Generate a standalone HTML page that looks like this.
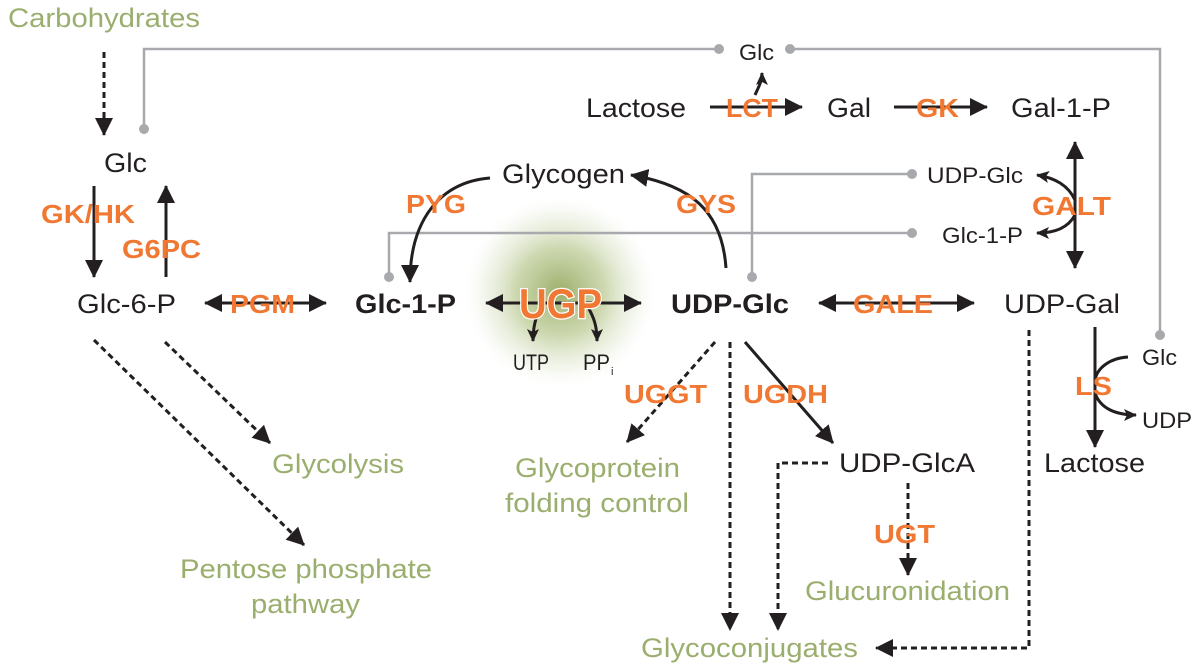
<!DOCTYPE html>
<html><head><meta charset="utf-8"><style>html,body{margin:0;padding:0;background:#fff}svg{display:block}</style></head>
<body>
<svg width="1200" height="672" viewBox="0 0 1200 672" xmlns="http://www.w3.org/2000/svg" font-family="Liberation Sans, Arial, sans-serif">
<defs>
<radialGradient id="glow" cx="0.5" cy="0.5" r="0.5">
<stop offset="0" stop-color="#8aa050" stop-opacity="0.85"/>
<stop offset="0.45" stop-color="#a3b76e" stop-opacity="0.55"/>
<stop offset="0.8" stop-color="#d5dfbf" stop-opacity="0.25"/>
<stop offset="1" stop-color="#ffffff" stop-opacity="0"/>
</radialGradient>
<marker id="ah" markerUnits="userSpaceOnUse" markerWidth="20" markerHeight="20" refX="17" refY="10" orient="auto">
<path d="M0,1 L18,10 L0,19 Z" fill="#231f20"/>
</marker>
<marker id="ahs" markerUnits="userSpaceOnUse" markerWidth="14" markerHeight="14" refX="12" refY="7" orient="auto">
<path d="M0,1 L13,7 L0,13 L3,7 Z" fill="#231f20"/>
</marker>
<marker id="ahr" markerUnits="userSpaceOnUse" markerWidth="20" markerHeight="20" refX="1" refY="10" orient="auto">
<path d="M18,1 L0,10 L18,19 Z" fill="#231f20"/>
</marker>
</defs>

<circle cx="560" cy="292" r="98" fill="url(#glow)"/>

<g stroke="#a7a9ac" stroke-width="2.5" fill="none">
<polyline points="144,129 144,49 719,49"/>
<polyline points="790,49 1160,49 1160,335"/>
<polyline points="389,277 389,233 912,233"/>
<polyline points="752,277 752,174 912,174"/>
</g>
<g fill="#a7a9ac">
<circle cx="144" cy="129" r="5"/><circle cx="719" cy="49" r="5"/><circle cx="790" cy="49" r="5"/>
<circle cx="1160" cy="335" r="5"/><circle cx="389" cy="277" r="5"/><circle cx="912" cy="233" r="5"/>
<circle cx="752" cy="277" r="5"/><circle cx="912" cy="174" r="5"/>
</g>

<g stroke="#231f20" stroke-width="3" fill="none">
<line x1="94" y1="186" x2="94" y2="277" marker-end="url(#ah)"/>
<line x1="166" y1="277" x2="166" y2="186" marker-end="url(#ah)"/>
<line x1="205" y1="303" x2="326" y2="303" marker-start="url(#ahr)" marker-end="url(#ah)"/>
<line x1="486" y1="303" x2="641" y2="303" marker-start="url(#ahr)" marker-end="url(#ah)"/>
<line x1="819" y1="303" x2="974" y2="303" marker-start="url(#ahr)" marker-end="url(#ah)"/>
<line x1="710" y1="107" x2="802" y2="107" marker-end="url(#ah)"/>
<line x1="894" y1="107" x2="987" y2="107" marker-end="url(#ah)"/>
<line x1="1075" y1="142" x2="1075" y2="268" marker-start="url(#ahr)" marker-end="url(#ah)"/>
<path d="M490,178 C440,182 410,220 410,282" marker-end="url(#ah)"/>
<path d="M726,268 C722,210 690,185 631,175" marker-end="url(#ah)"/>
<path d="M755,95 C758,88 762,82 762,73" marker-end="url(#ahs)"/>
<path d="M1075,200 C1068,185 1055,178 1037,175" marker-end="url(#ahs)"/>
<path d="M1075,215 C1068,228 1055,233 1037,233" marker-end="url(#ahs)"/>
<line x1="745" y1="342" x2="833" y2="443" marker-end="url(#ah)"/>
<line x1="1095" y1="327" x2="1095" y2="447" marker-end="url(#ah)"/>
<path d="M1128,357 C1110,358 1097,368 1095,380"/>
<path d="M1095,393 C1100,408 1115,415 1136,415" marker-end="url(#ahs)"/>
<path d="M540,307 C536,318 533,326 533,341" marker-end="url(#ahs)"/>
<path d="M588,307 C594,318 597,326 597,341" marker-end="url(#ahs)"/>
</g>

<g stroke="#231f20" stroke-width="3" fill="none" stroke-dasharray="6,4">
<line x1="104" y1="52" x2="104" y2="135" marker-end="url(#ah)"/>
<line x1="165" y1="342" x2="270" y2="443" marker-end="url(#ah)"/>
<line x1="94" y1="340" x2="304" y2="545" marker-end="url(#ah)"/>
<line x1="715" y1="342" x2="627" y2="442" marker-end="url(#ah)"/>
<line x1="730" y1="342" x2="730" y2="630" marker-end="url(#ah)"/>
<polyline points="828,463 778,463 778,630" marker-end="url(#ah)"/>
<line x1="908" y1="483" x2="908" y2="575" marker-end="url(#ah)"/>
<polyline points="1029,330 1029,648 876,648" marker-end="url(#ah)"/>
</g>

<g fill="#9aae6e" font-size="27">
<text x="8" y="27" textLength="192" lengthAdjust="spacingAndGlyphs">Carbohydrates</text>
<text x="272" y="473" textLength="132" lengthAdjust="spacingAndGlyphs">Glycolysis</text>
<text x="180" y="578" textLength="252" lengthAdjust="spacingAndGlyphs">Pentose phosphate</text>
<text x="251" y="613" textLength="109" lengthAdjust="spacingAndGlyphs">pathway</text>
<text x="515" y="477" textLength="165" lengthAdjust="spacingAndGlyphs">Glycoprotein</text>
<text x="505" y="512" textLength="184" lengthAdjust="spacingAndGlyphs">folding control</text>
<text x="805" y="600" textLength="205" lengthAdjust="spacingAndGlyphs">Glucuronidation</text>
<text x="641" y="657" textLength="217" lengthAdjust="spacingAndGlyphs">Glycoconjugates</text>
</g>

<g fill="#231f20" font-size="27">
<text x="104" y="172" textLength="43" lengthAdjust="spacingAndGlyphs">Glc</text>
<text x="77" y="313" textLength="99" lengthAdjust="spacingAndGlyphs">Glc-6-P</text>
<text x="355" y="313" font-weight="bold" textLength="101" lengthAdjust="spacingAndGlyphs">Glc-1-P</text>
<text x="671" y="313" font-weight="bold" textLength="118" lengthAdjust="spacingAndGlyphs">UDP-Glc</text>
<text x="1004" y="313" textLength="116" lengthAdjust="spacingAndGlyphs">UDP-Gal</text>
<text x="502" y="183" textLength="123" lengthAdjust="spacingAndGlyphs">Glycogen</text>
<text x="586" y="117" textLength="100" lengthAdjust="spacingAndGlyphs">Lactose</text>
<text x="827" y="117" textLength="44" lengthAdjust="spacingAndGlyphs">Gal</text>
<text x="1011" y="117" textLength="100" lengthAdjust="spacingAndGlyphs">Gal-1-P</text>
<text x="839" y="472" textLength="136" lengthAdjust="spacingAndGlyphs">UDP-GlcA</text>
<text x="1044" y="472" textLength="101" lengthAdjust="spacingAndGlyphs">Lactose</text>
</g>
<g fill="#231f20" font-size="22">
<text x="739" y="60" textLength="35" lengthAdjust="spacingAndGlyphs">Glc</text>
<text x="927" y="183" textLength="96" lengthAdjust="spacingAndGlyphs">UDP-Glc</text>
<text x="942" y="243" textLength="81" lengthAdjust="spacingAndGlyphs">Glc-1-P</text>
<text x="513" y="370" textLength="36" lengthAdjust="spacingAndGlyphs">UTP</text>
<text x="583" y="370" textLength="27" lengthAdjust="spacingAndGlyphs">PP</text>
<text x="611" y="375" font-size="11">i</text>
<text x="1142" y="365" textLength="35" lengthAdjust="spacingAndGlyphs">Glc</text>
<text x="1142" y="428" textLength="50" lengthAdjust="spacingAndGlyphs">UDP</text>
</g>

<g fill="#f07832" font-size="26" font-weight="bold">
<text x="41" y="223" textLength="94" lengthAdjust="spacingAndGlyphs">GK/HK</text>
<text x="122" y="258" textLength="79" lengthAdjust="spacingAndGlyphs">G6PC</text>
<text x="230" y="313" textLength="65" lengthAdjust="spacingAndGlyphs">PGM</text>
<text x="406" y="213" textLength="60" lengthAdjust="spacingAndGlyphs">PYG</text>
<text x="676" y="213" textLength="60" lengthAdjust="spacingAndGlyphs">GYS</text>
<text x="726" y="117" textLength="52" lengthAdjust="spacingAndGlyphs">LCT</text>
<text x="916" y="117" textLength="43" lengthAdjust="spacingAndGlyphs">GK</text>
<text x="1032" y="215" textLength="79" lengthAdjust="spacingAndGlyphs">GALT</text>
<text x="853" y="313" textLength="80" lengthAdjust="spacingAndGlyphs">GALE</text>
<text x="624" y="403" textLength="83" lengthAdjust="spacingAndGlyphs">UGGT</text>
<text x="743" y="403" textLength="85" lengthAdjust="spacingAndGlyphs">UGDH</text>
<text x="874" y="543" textLength="61" lengthAdjust="spacingAndGlyphs">UGT</text>
<text x="1075" y="395" textLength="37" lengthAdjust="spacingAndGlyphs">LS</text>
<text x="519" y="318" font-size="42" stroke="#ffffff" stroke-width="2.5" paint-order="stroke" textLength="83" lengthAdjust="spacingAndGlyphs">UGP</text>
</g>
</svg>
</body></html>
